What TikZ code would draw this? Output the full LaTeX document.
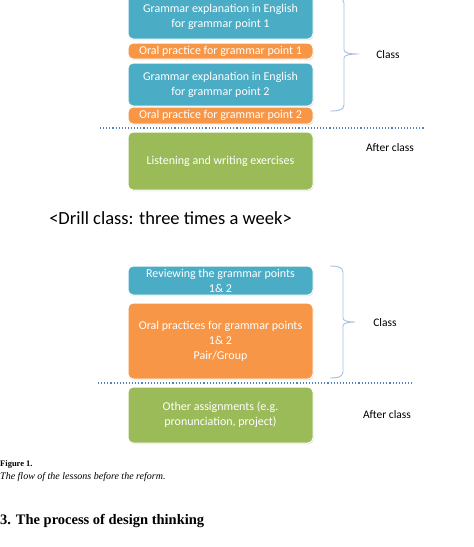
\documentclass[tikz,border=0pt]{standalone}
\usepackage{fontspec}
\setmainfont{Liberation Serif}
\newfontfamily\calib{Carlito}
\usetikzlibrary{shadows}

\definecolor{boxblue}{HTML}{4BACC6}
\definecolor{boxorange}{HTML}{F79646}
\definecolor{boxgreen}{HTML}{9BBB59}
\definecolor{lineblue}{HTML}{4F81BD}
\definecolor{bracegrey}{HTML}{A7BFDE}

\tikzset{
  lessonbox/.style={rounded corners=5pt, draw=white, line width=1pt, text=white,
    align=center, inner sep=0pt, minimum width=185pt,
    font=\calib\fontsize{12}{15}\selectfont,
    drop shadow={opacity=0.25, shadow xshift=0.6pt, shadow yshift=-1.2pt}},
  sidelabel/.style={font=\calib\fontsize{11.5}{13}\selectfont},
  parting/.style={lineblue, dotted, line width=1.1pt},
  bracket/.style={bracegrey, line width=0.9pt},
}

\begin{document}
\begin{tikzpicture}[x=1pt,y=-1pt]
\useasboundingbox (0,0) rectangle (474,547);

% lecture class
\node [lessonbox, fill=boxblue, minimum height=44pt] (gram1) at (220.5,17) {Grammar explanation in English\\for grammar point 1};
\node [lessonbox, fill=boxorange, minimum height=16pt] (oral1) at (220.5,51) {Oral practice for grammar point 1};
\node [lessonbox, fill=boxblue, minimum height=43pt] (gram2) at (220.5,84.5) {Grammar explanation in English\\for grammar point 2};
\node [lessonbox, fill=boxorange, minimum height=17pt] (oral2) at (220.5,115.5) {Oral practice for grammar point 2};
\node [lessonbox, fill=boxgreen, minimum height=58pt] (listen) at (220.5,161) {Listening and writing exercises};

\coordinate (cut1w) at (100,128);
\coordinate (cut1e) at (425,128);
\draw [parting] (cut1w) -- (cut1e);

% brace of the lecture
\coordinate (brace1t) at (330,-3);
\coordinate (brace1m) at (359,54);
\coordinate (brace1b) at (330,111);
\draw [bracket] (brace1t) to[out=0,in=90] (344,3) -- (344,50)
  .. controls (344,53) and (350,54) .. (brace1m)
  .. controls (350,54) and (344,55) .. (344,58) -- (344,105)
  to[out=-90,in=0] (brace1b);
\node [sidelabel] (class1) at (388,55) {Class};
\node [sidelabel] (after1) at (390,148) {After class};

% drill class
\node [font=\calib\fontsize{18.5}{22}\selectfont] (drill) at (170.5,218) {<Drill class: three times a week>};

\node [lessonbox, fill=boxblue, minimum height=29pt] (review) at (220.5,280.5) {Reviewing the grammar points\\1\& 2};
\node [lessonbox, fill=boxorange, minimum height=76pt] (pairs) at (220.5,341) {Oral practices for grammar points\\1\& 2\\Pair/Group};
\node [lessonbox, fill=boxgreen, minimum height=56pt] (other) at (220.5,415) {Other assignments (e.g.\\pronunciation, project)};

\coordinate (cut2w) at (98,383);
\coordinate (cut2e) at (413,383);
\draw [parting] (cut2w) -- (cut2e);

% brace of the drill
\coordinate (brace2t) at (330,266);
\coordinate (brace2m) at (355,322);
\coordinate (brace2b) at (330,378);
\draw [bracket] (brace2t) to[out=0,in=90] (343,272) -- (343,318)
  .. controls (343,321) and (348,322) .. (brace2m)
  .. controls (348,322) and (343,323) .. (343,326) -- (343,372)
  to[out=-90,in=0] (brace2b);
\node [sidelabel] (class2) at (385,323) {Class};
\node [sidelabel] (after2) at (387,415) {After class};

% caption and heading
\node [anchor=west, inner sep=0pt, font=\bfseries\fontsize{8.5}{10}\selectfont] (figno) at (0,464) {Figure 1.};
\node [anchor=west, inner sep=0pt, font=\itshape\fontsize{10}{12}\selectfont] (figcap) at (0,477) {The flow of the lessons before the reform.};
\node [anchor=west, inner sep=0pt, font=\bfseries\fontsize{14.5}{17}\selectfont] (heading) at (0,521) {3. The process of design thinking};
\end{tikzpicture}
\end{document}
